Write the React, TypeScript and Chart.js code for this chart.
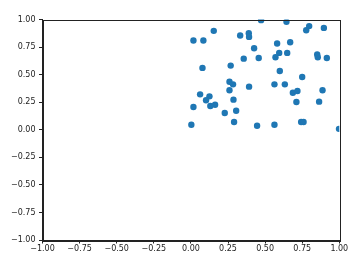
import React, { useEffect, useRef } from "react";
import { Chart, registerables } from "chart.js";

Chart.register(...registerables);

const xValues = [
  0.473, 0.644, 0.797, 0.777, 0.896, 0.154, 0.017, 0.084, 0.332, 0.39,
  0.392, 0.581, 0.669, 0.426, 0.595, 0.649, 0.57, 0.356, 0.457, 0.851,
  0.855, 0.916, 0.078, 0.268, 0.599, 0.75, 0.26, 0.284, 0.392, 0.563,
  0.633, 0.26, 0.062, 0.125, 0.102, 0.687, 0.718, 0.887, 0.287, 0.711,
  0.864, 0.017, 0.131, 0.163, 0.228, 0.305, 0.291, 0.003, 0.446, 0.563,
  0.743, 0.759, 0.998,
];
const yValues = [
  0.994, 0.979, 0.94, 0.903, 0.924, 0.897, 0.809, 0.809, 0.855, 0.876,
  0.842, 0.782, 0.794, 0.739, 0.697, 0.697, 0.658, 0.645, 0.651, 0.682,
  0.658, 0.651, 0.561, 0.582, 0.533, 0.479, 0.436, 0.412, 0.391, 0.412,
  0.412, 0.358, 0.321, 0.303, 0.267, 0.336, 0.352, 0.358, 0.273, 0.252,
  0.255, 0.206, 0.215, 0.227, 0.152, 0.173, 0.07, 0.045, 0.036, 0.045,
  0.07, 0.07, 0.008,
];
const axisMin = -1;
const axisMax = 1;
const tickStep = 0.25;

const fmt = (v: number) => {
  const s = Math.abs(v).toFixed(2);
  return v < -1e-9 ? "\u2212" + s : s;
};

const frame = {
  id: "frame",
  afterDraw(chart: any) {
    const { ctx, chartArea } = chart;
    ctx.save();
    ctx.strokeStyle = "#222";
    ctx.lineWidth = 1;
    ctx.strokeRect(
      Math.round(chartArea.left) + 0.5,
      Math.round(chartArea.top) + 0.5,
      Math.round(chartArea.right - chartArea.left),
      Math.round(chartArea.bottom - chartArea.top)
    );
    ctx.restore();
  },
};

export default function App() {
  const ref = useRef<HTMLCanvasElement | null>(null);
  useEffect(() => {
    document.body.style.margin = "0";
    const points = xValues.map((x, i) => ({ x, y: yValues[i] }));
    const tickFont = { family: "DejaVu Sans", size: 8 };
    const chart = new Chart(ref.current as HTMLCanvasElement, {
      type: "scatter",
      data: {
        datasets: [
          {
            data: points,
            backgroundColor: "#1f77b4",
            borderColor: "#1f77b4",
            borderWidth: 0,
            pointRadius: 3.2,
            clip: 0,
          } as any,
        ],
      },
      options: {
        animation: false,
        responsive: false,
        events: [],
        layout: { padding: { left: 0, right: 22.7, top: 19.5, bottom: 0 } },
        plugins: { legend: { display: false }, tooltip: { enabled: false } },
        scales: {
          x: {
            type: "linear",
            min: axisMin,
            max: axisMax,
            afterFit: (s: any) => {
              s.height = 25;
            },
            ticks: {
              stepSize: tickStep,
              callback: (v: any) => fmt(Number(v)),
              font: tickFont,
              color: "#222",
              padding: 1,
              maxRotation: 0,
              autoSkip: false,
            },
            grid: {
              drawOnChartArea: false,
              drawTicks: true,
              tickLength: 3.5,
              color: "#222",
            },
            border: { display: true, color: "#222" },
          },
          y: {
            type: "linear",
            min: axisMin,
            max: axisMax,
            afterFit: (s: any) => {
              s.width = 42.5;
            },
            ticks: {
              stepSize: tickStep,
              callback: (v: any) => fmt(Number(v)),
              font: tickFont,
              color: "#222",
              padding: 3.5,
              autoSkip: false,
            },
            grid: {
              drawOnChartArea: false,
              drawTicks: true,
              tickLength: 3.5,
              color: "#222",
            },
            border: { display: true, color: "#222" },
          },
        },
      },
      plugins: [frame],
    });
    return () => chart.destroy();
  }, []);
  return (
    <div style={{ width: 362, height: 265, background: "#fff" }}>
      <canvas ref={ref} width={362} height={265} />
    </div>
  );
}
